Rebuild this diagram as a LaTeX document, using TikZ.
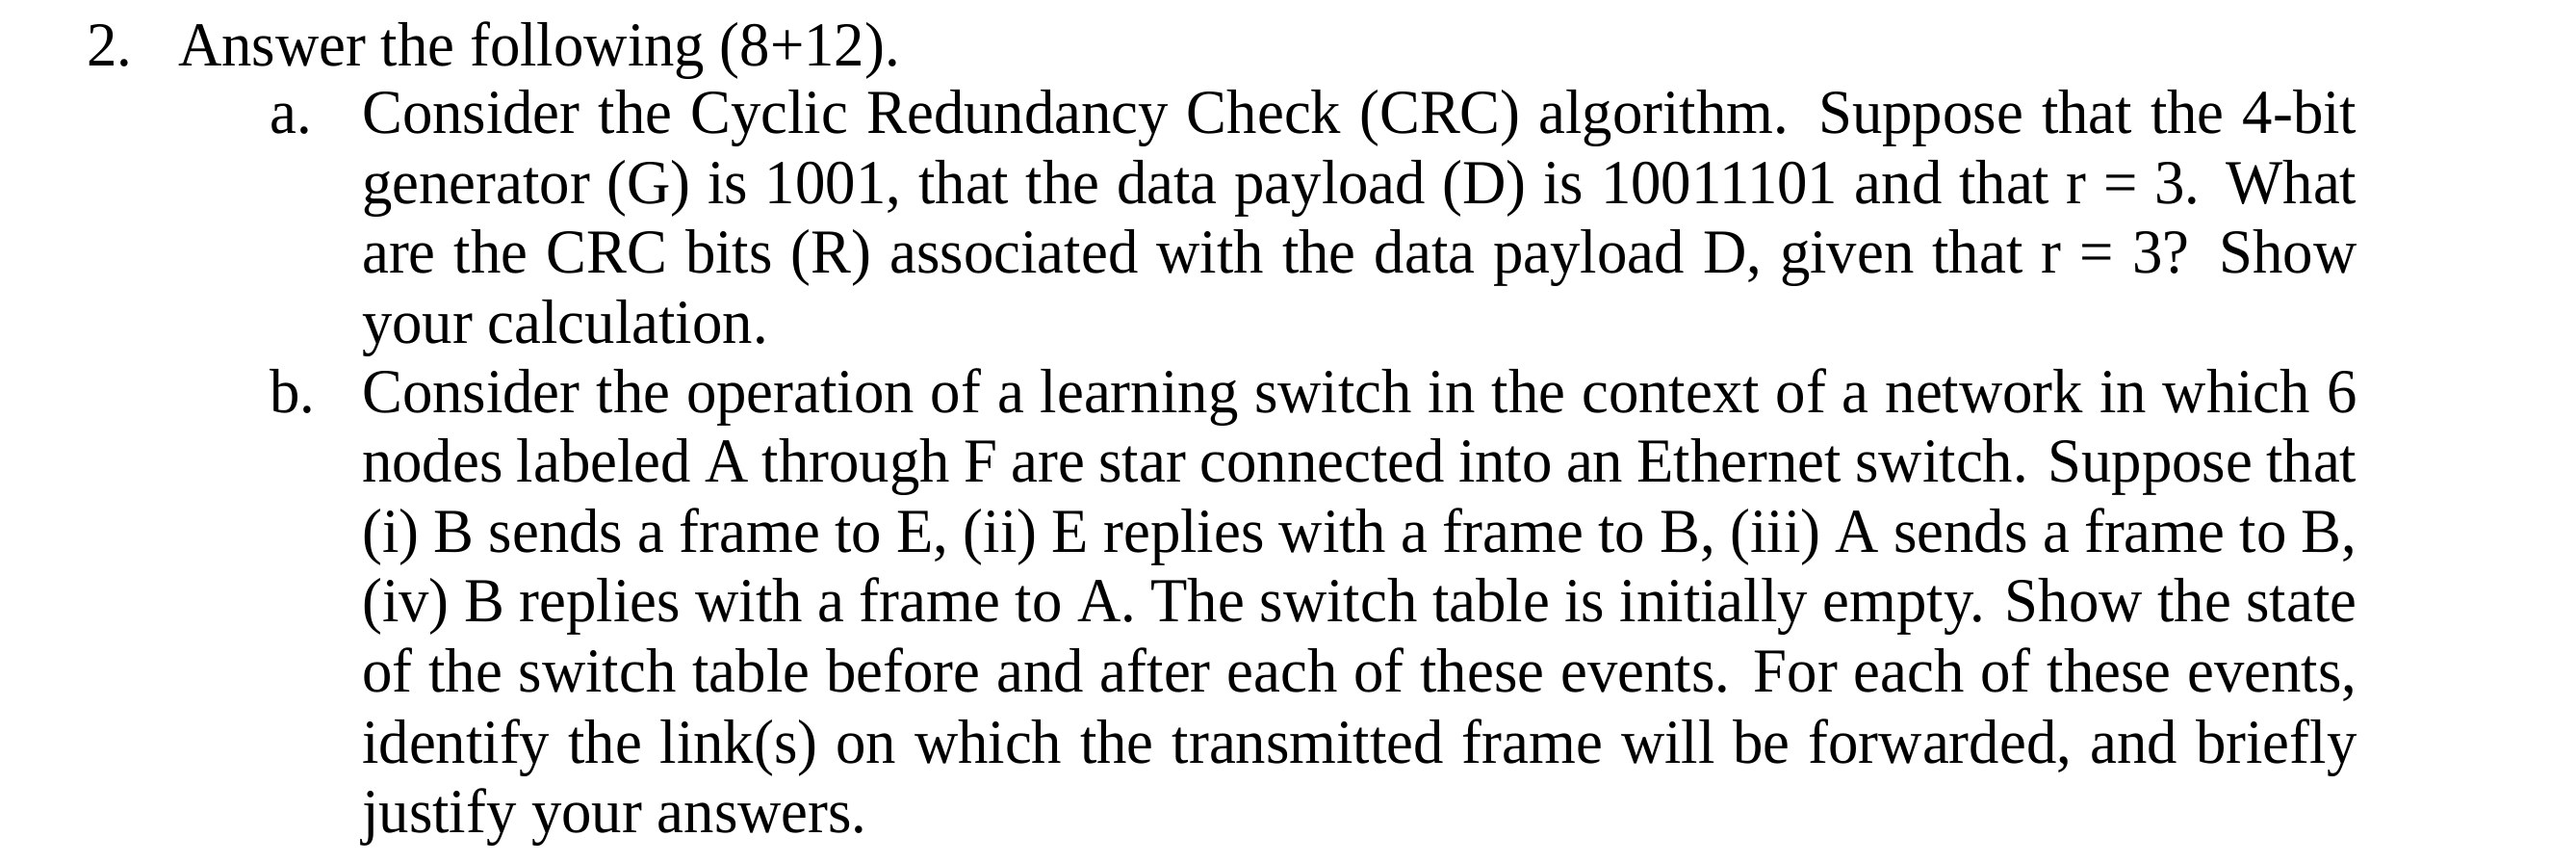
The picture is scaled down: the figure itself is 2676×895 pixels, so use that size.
\documentclass[tikz,border=0pt]{standalone}
\usepackage{fontspec}
\setmainfont[FakeStretch=0.965]{Liberation Serif}
\tikzset{ln/.style={anchor=base west,inner sep=0pt,font=\fontsize{65}{72}\selectfont}}
\newcommand{\jl}[1]{\makebox[2072pt][s]{#1}}
\begin{document}
\begin{tikzpicture}[x=1pt,y=-1pt]
\useasboundingbox[fill=white] (0,0) rectangle (2676,895);
\node[ln] (n2) at (90,68) {2.};
\node[ln] (t0) at (185,68) {Answer the following (8+12).};
\node[ln] (na) at (280,138) {a.};
\node[ln] (a1) at (376,138) {\jl{Consider the Cyclic Redundancy Check (CRC) algorithm. Suppose that the 4-bit}};
\node[ln] (a2) at (376,211) {\jl{generator (G) is 1001, that the data payload (D) is 10011101 and that r = 3. What}};
\node[ln] (a3) at (376,283) {\jl{are the CRC bits (R) associated with the data payload D, given that r = 3? Show}};
\node[ln] (a4) at (376,356) {your calculation.};
\node[ln] (nb) at (280,428) {b.};
\node[ln] (b1) at (376,428) {\jl{Consider the operation of a learning switch in the context of a network in which 6}};
\node[ln] (b2) at (376,500) {\jl{nodes labeled A through F are star connected into an Ethernet switch. Suppose that}};
\node[ln] (b3) at (376,573) {\jl{(i) B sends a frame to E, (ii) E replies with a frame to B, (iii) A sends a frame to B,}};
\node[ln] (b4) at (376,645) {\jl{(iv) B replies with a frame to A. The switch table is initially empty. Show the state}};
\node[ln] (b5) at (376,718) {\jl{of the switch table before and after each of these events. For each of these events,}};
\node[ln] (b6) at (376,792) {\jl{identify the link(s) on which the transmitted frame will be forwarded, and briefly}};
\node[ln] (b7) at (376,864) {justify your answers.};
\end{tikzpicture}
\end{document}
